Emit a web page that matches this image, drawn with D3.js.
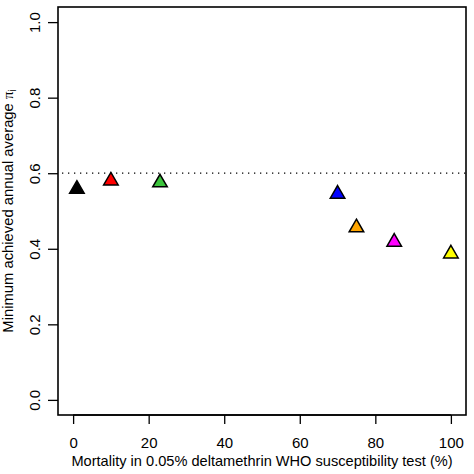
<!DOCTYPE html>
<html>
<head>
<meta charset="utf-8">
<script src="https://cdn.jsdelivr.net/npm/d3@7"></script>
<style>
  body { margin: 0; background: #fff; }
  text { font-family: "Liberation Sans", Arial, sans-serif; }
</style>
</head>
<body>
<div id="chart"></div>
<script>
// mortality (%) and minimum achieved annual average pi_i
const mortality = [1, 10, 23, 70, 75, 85, 100];
const minPi = [0.558, 0.58, 0.575, 0.545, 0.456, 0.418, 0.387];
const colours = ['#000000', '#ff0000', '#3cc43c', '#0000ff', '#ffa500', '#ff00ff', '#ffff00'];
const xTicks = [0, 20, 40, 60, 80, 100];
const yTicks = [0, 0.2, 0.4, 0.6, 0.8, 1.0];
const threshold = 0.6;

const width = 474;
const height = 474;

const svg = d3.select('#chart')
  .append('svg')
  .attr('width', width)
  .attr('height', height);

const box = { left: 58, right: 466, top: 7, bottom: 415 };

// R style: xlim 0..100, ylim 0..1, each padded by 4%
const xScale = d3.scaleLinear().domain([-4, 104]).range([box.left, box.right]);
const yScale = d3.scaleLinear().domain([-0.04, 1.04]).range([box.bottom, box.top]);

// threshold line
svg.append('line')
  .attr('x1', box.left + 4)
  .attr('x2', box.right)
  .attr('y1', yScale(threshold))
  .attr('y2', yScale(threshold))
  .attr('stroke', '#000')
  .attr('stroke-width', 1.3)
  .attr('stroke-dasharray', '1.3,4.7');

// x axis
const xAxis = svg.append('g')
  .attr('transform', `translate(0, ${box.bottom})`)
  .call(d3.axisBottom(xScale).tickValues(xTicks).tickSize(9).tickPadding(13).tickFormat(d3.format('d')));
xAxis.select('.domain').attr('d', `M${xScale(0)},0H${xScale(100)}`).attr('stroke-width', 1.3);
xAxis.selectAll('.tick line').attr('stroke-width', 1.3);
xAxis.selectAll('text').attr('font-size', 15).attr('fill', '#000');

// y axis
const yAxis = svg.append('g')
  .attr('transform', `translate(${box.left}, 0)`)
  .call(d3.axisLeft(yScale).tickValues(yTicks).tickSize(10).tickFormat(d3.format('.1f')));
yAxis.select('.domain').remove();
yAxis.selectAll('.tick line').attr('stroke-width', 1.3);
yAxis.selectAll('.tick text')
  .attr('font-size', 15)
  .attr('fill', '#000')
  .attr('x', null)
  .attr('dy', null)
  .attr('text-anchor', 'middle')
  .attr('transform', 'translate(-18, 0) rotate(-90)');

// plot frame
svg.append('rect')
  .attr('x', box.left)
  .attr('y', box.top)
  .attr('width', box.right - box.left)
  .attr('height', box.bottom - box.top)
  .attr('fill', 'none')
  .attr('stroke', '#000')
  .attr('stroke-width', 1.6);

// triangles (R pch 24 geometry)
const xc = 5.4;
const r = 1.5551 * xc, h = 1.3468 * xc, yc = 0.7776 * xc;
const tri = `M0,${-r}L${h},${yc}L${-h},${yc}Z`;

svg.append('g')
  .selectAll('path')
  .data(mortality.map((m, i) => ({ m, p: minPi[i], c: colours[i] })))
  .join('path')
  .attr('d', tri)
  .attr('transform', (d) => `translate(${xScale(d.m)}, ${yScale(d.p)})`)
  .attr('fill', (d) => d.c)
  .attr('stroke', '#000')
  .attr('stroke-width', 1.5)
  .attr('stroke-linejoin', 'miter');

// axis titles
svg.append('text')
  .attr('x', (box.left + box.right) / 2)
  .attr('y', 466)
  .attr('text-anchor', 'middle')
  .attr('font-size', 14.6)
  .text('Mortality in 0.05% deltamethrin WHO susceptibility test (%)');

const yTitle = svg.append('text')
  .attr('text-anchor', 'middle')
  .attr('font-size', 14.8)
  .attr('transform', `translate(12.5, ${(box.top + box.bottom) / 2}) rotate(-90)`);
yTitle.append('tspan').text('Minimum achieved annual average  ');
yTitle.append('tspan').attr('font-family', '"Liberation Serif", serif').text('π');
yTitle.append('tspan').attr('font-size', 10).attr('dy', 3).text('i');
</script>
</body>
</html>
